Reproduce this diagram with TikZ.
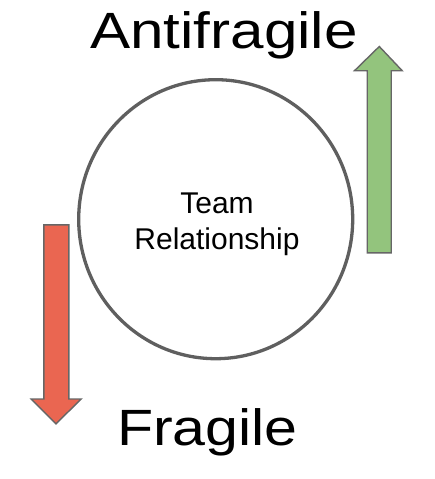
\documentclass[tikz,border=0pt]{standalone}
\usepackage{fontspec}
\setmainfont{Liberation Sans}
\definecolor{upgreen}{HTML}{93C47D}
\definecolor{downred}{HTML}{EA6651}
\definecolor{edgegray}{HTML}{666666}
\definecolor{ringgray}{HTML}{5F5F5F}
\begin{document}
\begin{tikzpicture}[x=1pt,y=-1pt,
  arrowshape/.style={draw=edgegray, line width=1.4pt, line join=miter},
  bigword/.style={inner sep=0pt, anchor=base, font=\fontsize{51}{51}\selectfont},
  ring/.style={draw=ringgray, line width=3.3pt}]
\useasboundingbox (0,0) rectangle (435,479);
% circle
\draw[ring] (215.7,219.2) ellipse [x radius=137, y radius=139.5];
\node[inner sep=0pt, anchor=base, align=center, font=\fontsize{30}{36}\selectfont] (team) at (217,249) {Team\\Relationship};
% titles
\node[bigword, xscale=1.18] (anti) at (224,48.5) {Antifragile};
\node[bigword, xscale=1.16] (frag) at (207.5,445) {Fragile};
% green up arrow
\draw[arrowshape, fill=upgreen] (379.3,46.5) -- (402.2,70.7) -- (391.2,70.7) -- (391.2,252.8) -- (367.2,252.8) -- (367.2,70.7) -- (354.5,70.7) -- cycle;
% red down arrow
\draw[arrowshape, fill=downred] (43.8,224.8) -- (68.8,224.8) -- (68.8,399) -- (81.2,399) -- (56,423.8) -- (31.2,399) -- (43.8,399) -- cycle;
\end{tikzpicture}
\end{document}
